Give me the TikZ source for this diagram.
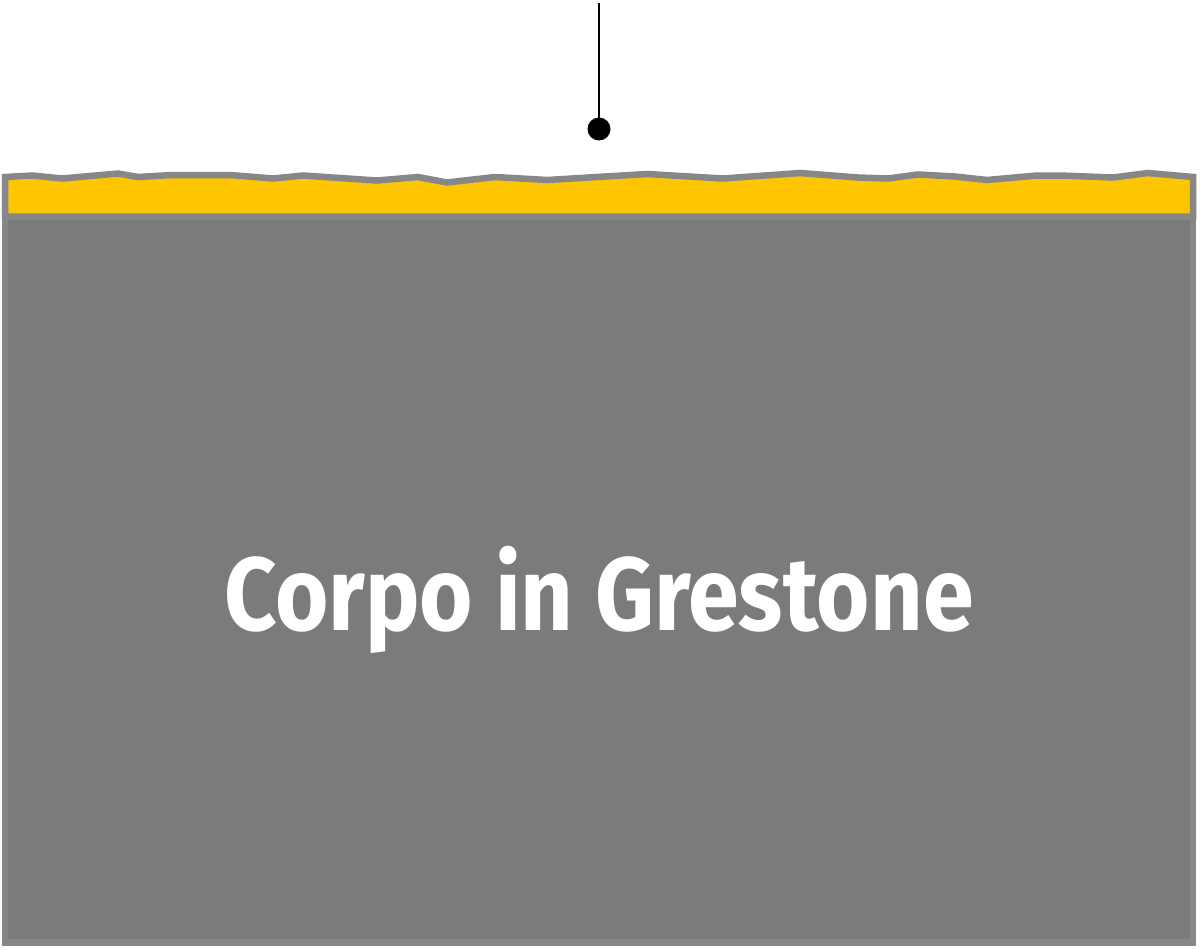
\documentclass[tikz,border=0pt]{standalone}
\usepackage{fontspec}
\setmainfont{Fira Sans}
\newfontfamily\labelfont[FakeStretch=0.88]{Fira Sans}
\definecolor{grestone}{HTML}{7B7B7B}
\definecolor{edgegray}{HTML}{878787}
\definecolor{coating}{HTML}{FDC600}
\tikzset{
  layer/.style={line width=6.5pt, draw=edgegray, line join=miter},
  pointer/.style={line width=2.8pt}
}
\begin{document}
\begin{tikzpicture}[x=1pt,y=-1pt]
    \useasboundingbox (0,0) rectangle (1200,950);
    % body of the tile
    \draw[layer, fill=grestone] (5,216.5) rectangle (1193,942.6);
    \node[text=white, font=\labelfont\bfseries\fontsize{104}{110}\selectfont, anchor=base] (label) at (599,630) {Corpo in Grestone};

    % rough top coating
    \draw[layer, fill=coating] (5,216.5) -- (5,177) -- (32,175.5) -- (62,178.5) -- (118,173.5) -- (138,177)
        -- (172,175) -- (230,175) -- (273,178.5) -- (303,175.5) -- (377,180.5) -- (418,177)
        -- (447,182.5) -- (495,177) -- (547,180) -- (647,174) -- (723,178.5) -- (800,173)
        -- (858,177.5) -- (888,178.5) -- (918,174.5) -- (955,176.5) -- (987,180) -- (1037,175.5)
        -- (1060,175.5) -- (1113,177.5) -- (1148,173) -- (1193,177) -- (1193,216.5) -- cycle;

    % pointer line
    \node[circle, fill=black, inner sep=0pt, minimum size=23pt] (dot) at (599,129) {};
    \coordinate (tip) at (599,3);
    \draw[pointer] (tip) -- (dot.center);
\end{tikzpicture}
\end{document}
